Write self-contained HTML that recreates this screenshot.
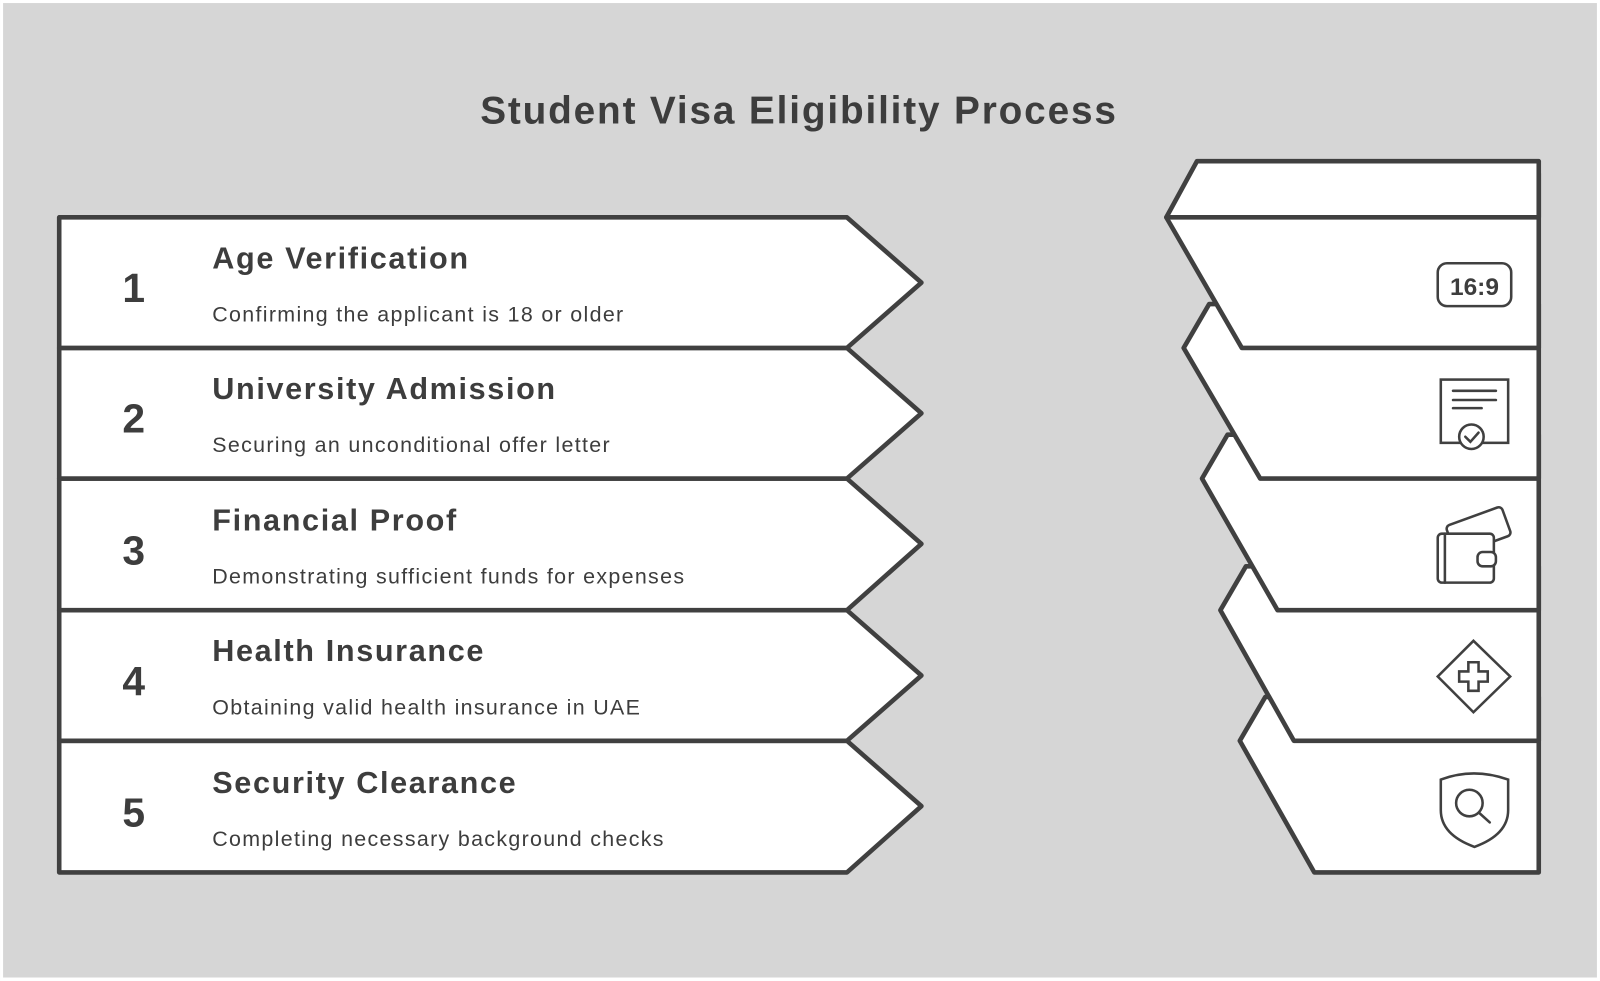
<!DOCTYPE html>
<html><head><meta charset="utf-8"><style>
html,body{margin:0;padding:0;background:#d6d6d6;}
svg{display:block}
text{font-family:"Liberation Sans",sans-serif;fill:#3d3d3d}
</style></head><body>
<svg width="1600" height="981" viewBox="0 0 1568 961.4" xmlns="http://www.w3.org/2000/svg">
<rect x="0" y="0" width="1568" height="962" fill="#fff"/>
<rect x="3" y="3" width="1562" height="955" fill="#d6d6d6"/>
<text x="783" y="121" text-anchor="middle" font-size="38" font-weight="bold" letter-spacing="1.8">Student Visa Eligibility Process</text>
<g stroke="#404040" stroke-width="4.5" fill="#fff" stroke-linejoin="round">
<polygon points="58,726 830,726 903,790 830,855 58,855"/>
<polygon points="58,598 830,598 903,662 830,726 58,726"/>
<polygon points="58,469 830,469 903,533 830,598 58,598"/>
<polygon points="58,341 830,341 903,405 830,469 58,469"/>
<polygon points="58,213 830,213 903,277 830,341 58,341"/>
<polygon points="1215,726 1240,683 1508,683 1508,855 1288,855"/>
<polygon points="1196,598 1221,555 1508,555 1508,726 1268,726"/>
<polygon points="1178,469 1203,426 1508,426 1508,598 1252,598"/>
<polygon points="1160,341 1185,298 1508,298 1508,469 1235,469"/>
<polygon points="1143,213 1168,170 1508,170 1508,341 1217,341"/>
<polygon points="1143,213 1173,158 1508,158 1508,213"/>
</g>
<g font-weight="bold" font-size="40" text-anchor="middle">
<text x="131" y="296">1</text><text x="131" y="424">2</text><text x="131" y="553">3</text><text x="131" y="681">4</text><text x="131" y="810">5</text>
</g>
<g font-weight="bold" font-size="30" letter-spacing="1.6">
<text x="208" y="263">Age Verification</text>
<text x="208" y="391">University Admission</text>
<text x="208" y="520">Financial Proof</text>
<text x="208" y="648">Health Insurance</text>
<text x="208" y="777">Security Clearance</text>
</g>
<g font-size="21" letter-spacing="1.3">
<text x="208" y="315">Confirming the applicant is 18 or older</text>
<text x="208" y="443">Securing an unconditional offer letter</text>
<text x="208" y="572">Demonstrating sufficient funds for expenses</text>
<text x="208" y="700">Obtaining valid health insurance in UAE</text>
<text x="208" y="829">Completing necessary background checks</text>
</g>
<g stroke="#404040" stroke-width="2.5" fill="none" stroke-linecap="round">
<rect x="1409" y="258" width="72" height="42" rx="9"/>
<rect x="1412" y="372" width="66" height="62"/>
<line x1="1424" y1="383" x2="1466" y2="383"/><line x1="1424" y1="392" x2="1466" y2="392"/><line x1="1424" y1="400" x2="1452" y2="400"/>
<circle cx="1442" cy="428" r="12" fill="#fff"/><polyline points="1436,428 1441,433 1449,424"/>
<rect x="1420" y="505" width="58" height="30" rx="4" transform="rotate(-20 1449 520)"/>
<rect x="1409" y="523" width="55" height="48" rx="4" fill="#fff"/>
<line x1="1416" y1="523" x2="1416" y2="571"/>
<rect x="1448" y="541" width="18" height="14" rx="5" fill="#fff"/>
<polygon points="1444,628 1480,663 1444,698 1409,663"/>
<path d="M1439,649 h10 v9 h9 v10 h-9 v9 h-10 v-9 h-9 v-10 h9 z"/>
<path d="M1412,764 q32,-12 66,0 v30 q0,24 -33,36 q-33,-12 -33,-36 z"/>
<circle cx="1440" cy="787" r="13"/><line x1="1450" y1="797" x2="1460" y2="806"/>
</g>
<text x="1445" y="289" text-anchor="middle" font-family="Liberation Mono" font-size="24" font-weight="bold">16:9</text>
</svg>
</body></html>
